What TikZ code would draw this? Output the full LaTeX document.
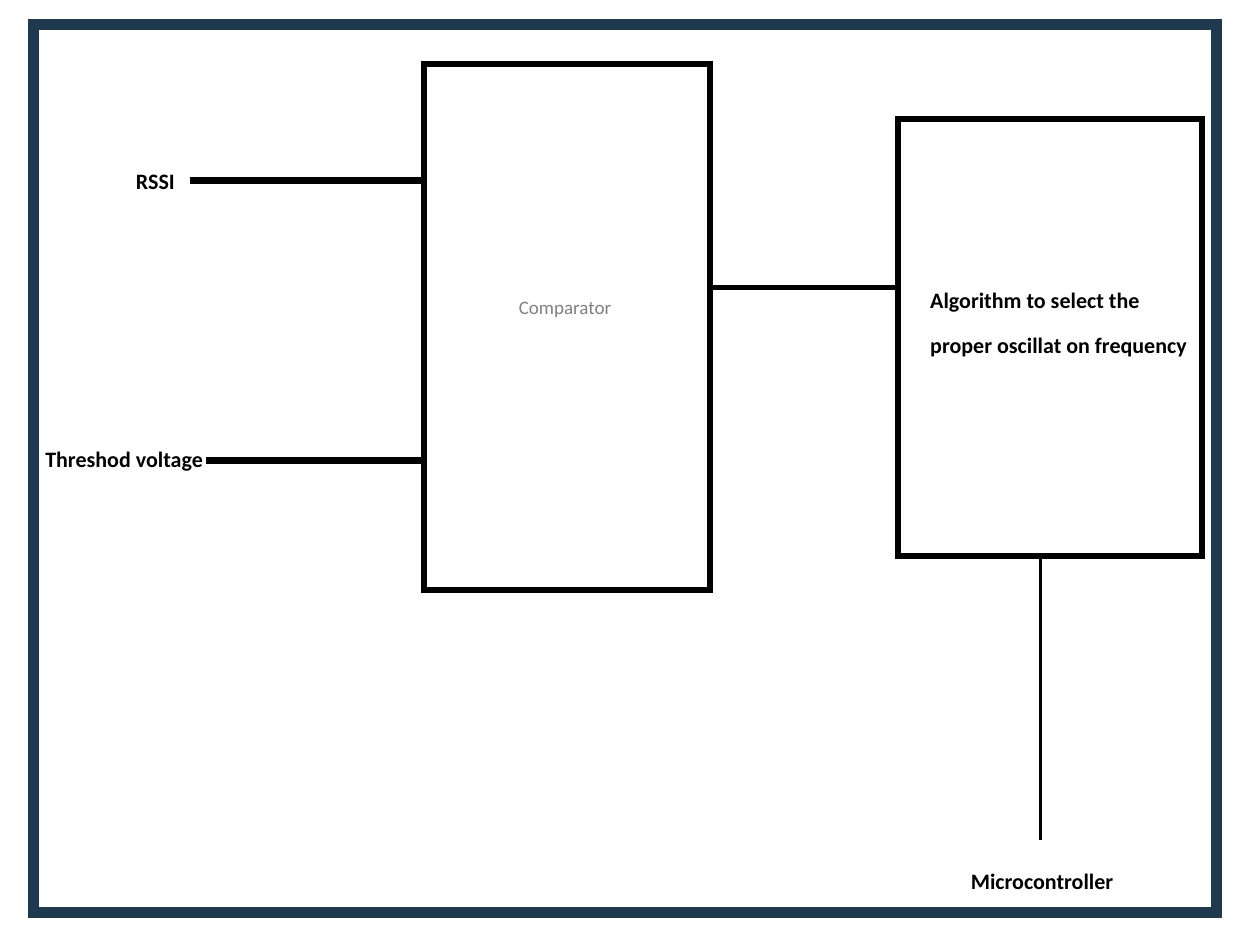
\documentclass[tikz,border=0pt]{standalone}
\usepackage{fontspec}
\setmainfont{Carlito}
\definecolor{frame}{HTML}{1F3A4F}
\begin{document}
\begin{tikzpicture}[x=1pt,y=-1pt,
  lbl/.style={font=\fontsize{22}{45}\selectfont\bfseries, inner sep=1pt},
  blk/.style={draw=black, line width=6pt, fill=white}]
\useasboundingbox (0,0) rectangle (1256,943);
\fill[white] (0,0) rectangle (1256,943);
\draw[frame, line width=11pt] (33,24) rectangle (1216,912);
\node[blk, minimum width=286pt, minimum height=526pt, anchor=north west] (comp) at (421,61) {};
\node[lbl, text=gray, font=\fontsize{19}{23}\selectfont] (comptext) at (565,310) {Comparator};
\node[blk, minimum width=304pt, minimum height=437pt, anchor=north west] (alg) at (895,116) {};
\node[lbl, align=left, anchor=north west] (algtext) at (929,292) {Algorithm to select the\\proper oscillat on frequency};
\node[lbl, anchor=east] (rssi) at (176,182) {RSSI};
\node[lbl, anchor=east] (thr) at (204,462) {Threshod voltage};
\node[lbl] (micro) at (1042,882) {Microcontroller};
\draw[line width=7pt] (rssi.east) ++(14,-2) coordinate (r1) -- (r1 -| comp.west);
\draw[line width=7pt] (thr.east) ++(2,-2) coordinate (t1) -- (t1 -| comp.west);
\draw[line width=5pt] (comp.east |- 0,287) coordinate (c1) -- (c1 -| alg.west);
\draw[line width=3pt] (alg.south -| 1040,0) coordinate (a1) -- (1040,840) coordinate (a2);
\end{tikzpicture}
\end{document}
